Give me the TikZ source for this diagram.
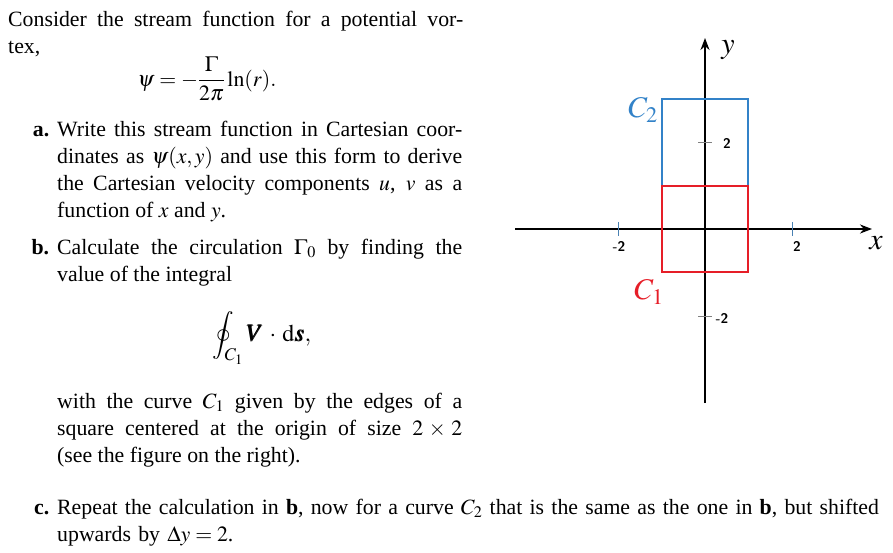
\documentclass[tikz,border=0pt]{standalone}
\usepackage{amsmath}
\usepackage{mathptmx}
\usepackage{bm}
\usepackage{fontspec}
\setmainfont{Liberation Serif}
\usetikzlibrary{arrows.meta}
\definecolor{cblue}{RGB}{50,130,200}
\definecolor{cred}{RGB}{230,30,40}
\newcommand{\lbl}[1]{\llap{\textbf{#1}\hspace{8pt}}}
\tikzset{txt/.style={anchor=north west,inner sep=0pt,align=justify,font=\fontsize{21.8}{27}\selectfont},
tick/.style={font=\sffamily\bfseries\fontsize{14}{16}\selectfont,inner sep=1pt},
ax/.style={line width=2.2pt,-{Stealth[length=12pt,width=9pt]}}}
\begin{document}
\begin{tikzpicture}[x=1pt,y=-1pt]
\useasboundingbox (0,0) rectangle (893,553);
\node[txt,text width=455] (p0) at (8,11) {Consider the stream function for a potential vor-\linebreak tex,};
\node[inner sep=0pt,font=\fontsize{21.8}{27}\selectfont] (eq) at (207,79) {$\psi = -\dfrac{\Gamma}{2\pi}\ln(r).$};
\node[txt,text width=405] (pa) at (57,121) {\lbl{a.}Write this stream function in Cartesian coor-\linebreak dinates as $\psi(x,y)$ and use this form to derive\linebreak the Cartesian velocity components $u$, $v$ as a\linebreak function of $x$ and $y$.};
\node[txt,text width=405] (pb) at (57,239) {\lbl{b.}Calculate the circulation $\Gamma_0$ by finding the\linebreak value of the integral};
\node[inner sep=0pt,font=\fontsize{24}{27}\selectfont] (int) at (262,338) {$\displaystyle\oint_{C_1} \bm{V}\,\cdot\, \mathrm{d}\bm{s},$};
\node[txt,text width=405] (pb2) at (57,393) {with the curve $C_1$ given by the edges of a\linebreak square centered at the origin of size $2\times 2$\linebreak (see the figure on the right).};
\node[txt,text width=830,align=left] (pc) at (57,499) {\lbl{c.}Repeat the calculation in \textbf{b}, now for a curve $C_2$ that is the same as the one in \textbf{b}, but shifted\\upwards by $\Delta y = 2$.};
% axes
\coordinate (O) at (705,229);
\coordinate (xs) at (515,229); \coordinate (xe) at (872,229);
\coordinate (ys) at (705,403); \coordinate (ye) at (705,38);
\draw[ax] (xs) -- (xe);
\draw[ax] (ys) -- (ye);
\foreach \p in {618,792}{\draw[cblue!70!gray,line width=0.6pt] (\p,222) -- (\p,236);}
\foreach \p in {142,316}{\draw[gray,line width=0.6pt] (698,\p) -- (712,\p);}
\node[tick] (tm2) at (619,246) {-2};
\node[tick] (tp2) at (797,246) {2};
\node[tick] (ty2) at (727,143) {2};
\node[tick] (tym) at (722,318) {-2};
\node[font=\fontsize{30}{30}\selectfont] (ly) at (728,50) {$y$};
\node[font=\fontsize{30}{30}\selectfont] (lx) at (876,243) {$x$};
\draw[cblue,line width=1.2pt] (662,99) rectangle (748,186);
\draw[cred,line width=1.2pt] (662,186) rectangle (748,272);
\node[cblue,font=\sffamily\fontsize{30}{30}\selectfont] (c2) at (643,110) {$C_2$};
\node[cred,font=\sffamily\fontsize{30}{30}\selectfont] (c1) at (649,292) {$C_1$};
\end{tikzpicture}
\end{document}
